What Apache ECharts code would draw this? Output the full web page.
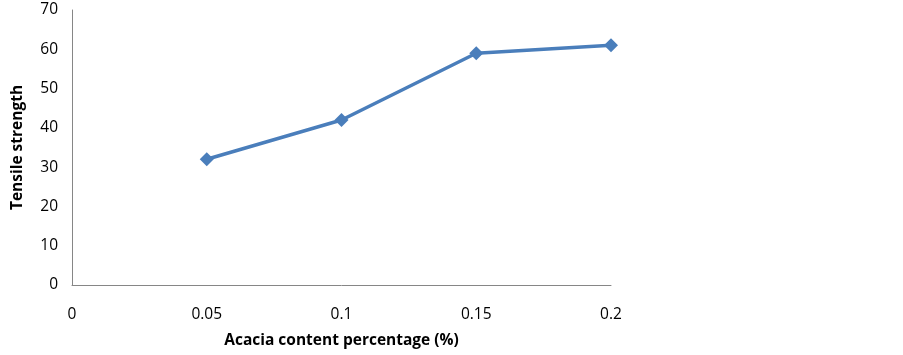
<!DOCTYPE html>
<html>
<head>
<meta charset="utf-8">
<script src="https://cdn.jsdelivr.net/npm/echarts@6/dist/echarts.min.js"></script>
<style>
  html, body { margin: 0; padding: 0; background: #fff; }
  #chart { width: 903px; height: 355px; }
</style>
</head>
<body>
<div id="chart"></div>
<script>
const acaciaContent = [0.05, 0.1, 0.15, 0.2];
const tensileStrength = [32, 42, 59, 61];

const axisColor = '#868686';
const lineColor = '#4a7ebb';
const font = '"Open Sans", "Liberation Sans", sans-serif';

const chart = echarts.init(document.getElementById('chart'));
chart.setOption({
  animation: false,
  backgroundColor: '#fff',
  grid: { left: 72, right: 292, top: 10, bottom: 70, outerBoundsMode: 'none' },
  xAxis: {
    type: 'value',
    min: 0,
    max: 0.2,
    interval: 0.05,
    name: 'Acacia content percentage (%)',
    nameLocation: 'middle',
    nameGap: 48,
    nameTextStyle: { color: '#000', fontSize: 15.5, fontWeight: 'bold', fontFamily: font },
    axisLine: { lineStyle: { color: axisColor, width: 1 } },
    axisTick: { show: false },
    splitLine: { show: false },
    axisLabel: { color: '#000', fontSize: 15.5, fontFamily: font, margin: 22 },
  },
  yAxis: {
    type: 'value',
    min: 0,
    max: 70,
    interval: 10,
    name: 'Tensile strength',
    nameLocation: 'middle',
    nameGap: 46,
    nameTextStyle: { color: '#000', fontSize: 15.5, fontWeight: 'bold', fontFamily: font },
    axisLine: { show: true, lineStyle: { color: axisColor, width: 1 } },
    axisTick: { show: false },
    splitLine: { show: false },
    axisLabel: { color: '#000', fontSize: 15.5, fontFamily: font, margin: 14 },
  },
  series: [
    {
      type: 'line',
      data: acaciaContent.map((x, i) => [x, tensileStrength[i]]),
      symbol: 'diamond',
      symbolSize: 14,
      lineStyle: { color: lineColor, width: 3.5 },
      itemStyle: { color: lineColor },
    },
  ],
});
</script>
</body>
</html>
